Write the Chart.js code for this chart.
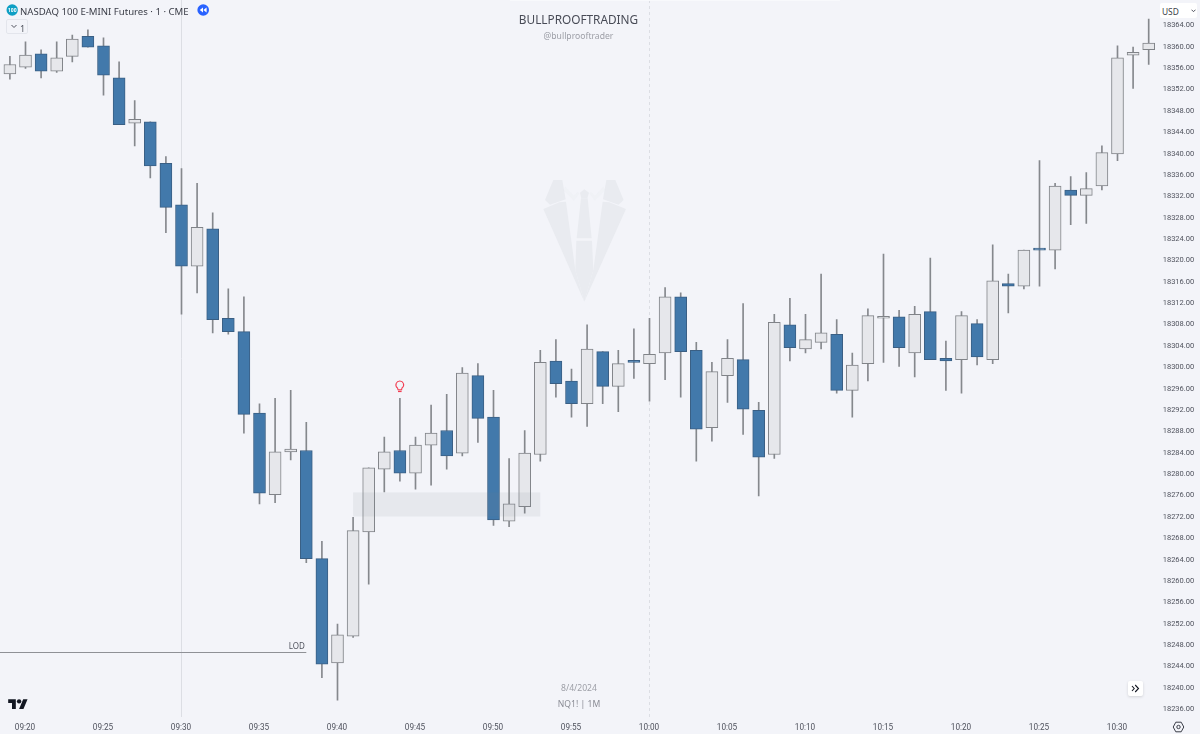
<!DOCTYPE html>
<html>
<head>
<meta charset="utf-8">
<script src="https://cdn.jsdelivr.net/npm/chart.js@4"></script>
<style>
html,body{margin:0;padding:0;background:#f3f4f9;width:1200px;height:734px;overflow:hidden}
#wrap{position:relative;width:1200px;height:734px}
#wrap>*{position:absolute}
canvas{left:0;top:0}
.t{white-space:nowrap;line-height:1}
</style>
</head>
<body>
<div id="wrap">
<svg style="left:0;top:0" width="1200" height="734" viewBox="0 0 1200 734">
  <g fill="#e9ebf0" transform="translate(500,170) scale(.3333)">
    <path d="M160 30L187 30L197 88L150 104L135 90Z"/>
    <path d="M346 30L319 30L309 88L356 104L371 90Z"/>
    <path d="M130 117L178 97L198 95L226 300L253 395Z"/>
    <path d="M378 117L328 97L308 95L280 300L253 395Z"/>
    <path d="M240 68L253 58L267 68L262 85L244 85Z"/>
    <path d="M243 85L263 85L275 205L230 205Z"/>
    <path d="M229 212L276 212L280 300L253 395L226 300Z"/>
    <path d="M190 60L222 92L238 70L232 66L222 78L196 50Z" opacity=".25"/>
    <path d="M316 60L284 92L268 70L274 66L284 78L310 50Z" opacity=".25"/>
  </g>
</svg>
<canvas id="c" width="1200" height="734"></canvas>

<svg style="left:6px;top:4px" width="13" height="13" viewBox="0 0 13 13"><circle cx="6.2" cy="6" r="5.7" fill="#0e9fc4"/><text x="6.2" y="7.8" font-family="Roboto" font-size="5" font-weight="700" fill="#fff" text-anchor="middle">100</text></svg>
<div class="t" style="left:20px;top:5px;font:9.6px 'Noto Sans';color:#3a3d47">NASDAQ 100 E-MINI Futures · 1 · CME</div>
<svg style="left:197px;top:4px" width="13" height="13" viewBox="0 0 13 13"><circle cx="6.2" cy="6" r="5.8" fill="#2962ff"/><path d="M6 3.4V8.6L2.8 6ZM9.6 3.4V8.6L6.4 6Z" fill="#fff"/></svg>
<div class="t" style="left:6px;top:19px;width:20px;height:13px;border:1px solid #e3e5ec;border-radius:2px;font:9px 'Noto Sans';color:#50535e"><svg style="position:absolute;left:4px;top:4px" width="6" height="5"><path d="M.5 1L3 3.5L5.5 1" stroke="#50535e" fill="none"/></svg><span style="position:absolute;left:13px;top:2px">1</span></div>

<div class="t" style="left:490px;width:177px;top:11px;text-align:center;font:11.8px 'Noto Sans';color:#484b56">BULLPROOFTRADING</div>
<div class="t" style="left:490px;width:177px;top:30px;text-align:center;font:8.6px 'Noto Sans';color:#9c9ea6">@bullprooftrader</div>
<div style="left:510px;top:0;width:330px;height:1px;background:#f8f9fc"></div>

<div class="t" style="left:1160px;top:3px;width:37px;height:15px;background:#fff;border-radius:2px;font:8.4px 'Noto Sans';color:#3a3d47"><span style="position:absolute;left:2px;top:3px">USD</span><svg style="position:absolute;left:31px;top:6px" width="5" height="4"><path d="M.5 .7L2.5 2.7L4.5 .7" stroke="#50535e" fill="none"/></svg></div>

<svg style="left:393px;top:379px" width="14" height="15" viewBox="0 0 14 15"><path d="M4.6 9.2C2.6 7.4 2.6 5.8 3.2 4.4C3.9 2.8 5.4 2 6.8 2C8.3 2 9.8 2.9 10.4 4.4C11 5.8 10.8 7.4 8.9 9.2L8.6 10.8H5Z" fill="none" stroke="#f23d52" stroke-width="1.1"/><path d="M5 12.4H8.6" stroke="#f23d52" stroke-width="1.4"/></svg>

<div class="t" style="left:534px;width:90px;top:682px;text-align:center;font:8.6px 'Noto Sans';color:#9c9ea6">8/4/2024</div>
<div class="t" style="left:534px;width:90px;top:698px;text-align:center;font:8.6px 'Noto Sans';color:#8a8c95">NQ1! | 1M</div>

<svg style="left:8px;top:697px" width="20" height="12" viewBox="0 0 36 22"><path d="M14 22H7V11H0V4h14v18zM28 22h-8l7.5-18h8L28 22z" fill="#131722"/><circle cx="20" cy="8" r="4" fill="#131722"/></svg>

<div style="left:1128px;top:681px;width:15px;height:15px;background:#fff;border-radius:2px;box-shadow:0 1px 3px rgba(0,0,0,.14)"><svg style="position:absolute;left:3px;top:3px" width="10" height="9" viewBox="0 0 10 9"><path d="M1 2L3.2 4.5L1 7M4.2 1L7.5 4.5L4.2 8" stroke="#131722" stroke-width="1.1" fill="none"/></svg></div>
<svg style="left:1172px;top:721px" width="13" height="12" viewBox="0 0 13 12"><path d="M3.8 1.2H9.2L11.8 6L9.2 10.8H3.8L1.2 6Z" fill="none" stroke="#3a3d47" stroke-width="1"/><circle cx="6.5" cy="6" r="1.7" fill="none" stroke="#3a3d47" stroke-width="1"/></svg>
</div>

<script>
const times = ["09:19","09:20","09:21","09:22","09:23","09:24","09:25","09:26","09:27","09:28","09:29","09:30","09:31","09:32","09:33","09:34","09:35","09:36","09:37","09:38","09:39","09:40","09:41","09:42","09:43","09:44","09:45","09:46","09:47","09:48","09:49","09:50","09:51","09:52","09:53","09:54","09:55","09:56","09:57","09:58","09:59","10:00","10:01","10:02","10:03","10:04","10:05","10:06","10:07","10:08","10:09","10:10","10:11","10:12","10:13","10:14","10:15","10:16","10:17","10:18","10:19","10:20","10:21","10:22","10:23","10:24","10:25","10:26","10:27","10:28","10:29","10:30","10:31","10:32"];
const xTickLabels = ["09:20","09:25","09:30","09:35","09:40","09:45","09:50","09:55","10:00","10:05","10:10","10:15","10:20","10:25","10:30"];
const yTickValues = [18236,18240,18244,18248,18252,18256,18260,18264,18268,18272,18276,18280,18284,18288,18292,18296,18300,18304,18308,18312,18316,18320,18324,18328,18332,18336,18340,18344,18348,18352,18356,18360,18364];

const opens = [18354.75,18356,18358.5,18355.25,18358,18361.75,18360,18354,18345.5,18345.75,
18338,18330.25,18318.75,18325.75,18309,18306.5,18291.25,18276,18284,18284.25,
18264,18244.5,18249.5,18269,18280.75,18284.25,18280,18285.25,18288,18283.75,
18298.25,18290.5,18271,18273.75,18283.5,18301,18297.25,18293,18302.75,18296.25,
18301,18300.5,18302.5,18313,18303,18288.5,18298.25,18301.25,18291.75,18283.5,
18307.75,18303.25,18304.5,18306,18295.5,18300.5,18309,18309.25,18302.5,18310.25,
18301.5,18301.25,18308,18301.25,18315.5,18315,18322,18321.75,18333,18332,
18333.75,18339.75,18358.25,18359.25];
const closes = [18356.5,18358.25,18355.25,18357.75,18361.25,18359.75,18354.5,18345.25,18346.25,18337.5,
18329.75,18318.75,18326,18308.75,18306.5,18291,18276.25,18284,18284.5,18264,
18244.25,18249.75,18269.25,18281,18284,18280,18285.25,18287.5,18283.25,18298.75,
18290.25,18271.25,18274.25,18283.75,18300.75,18296.75,18293,18303.25,18296.25,18300.5,
18300.75,18302.25,18313,18302.75,18288.25,18299,18301.5,18292,18283,18308.25,
18303.5,18305,18306.25,18295.5,18300.25,18309.5,18309,18303.5,18309.75,18301.25,
18301,18309.5,18301.75,18316,18315,18321.75,18321.75,18333.75,18332,18333.25,
18340,18357.75,18358.75,18360.5];
const highs = [18358,18360.75,18359.25,18360.75,18362,18363,18361.5,18357,18349.75,18345.75,
18339.25,18337,18334.25,18328.75,18314.5,18313,18293,18294,18295.5,18289.5,
18267.25,18251.75,18271.75,18281,18286.75,18294,18286.75,18292.75,18294.75,18299.75,
18300.5,18295.5,18282.75,18288,18303,18305,18299.5,18307.75,18302.75,18303,
18307,18309,18314.75,18313.75,18304.5,18300.75,18305,18311.75,18293.25,18309.75,
18312.75,18309.75,18317.25,18308.75,18302.5,18310.75,18321,18310.5,18311.25,18320.25,
18304.75,18310.25,18308.75,18322.75,18317.25,18321.75,18338.5,18334.25,18335.5,18336.25,
18341.25,18360,18359.75,18365];
const lows = [18353.75,18355.75,18354,18355,18357,18359.75,18350.75,18345.25,18341.25,18335.25,
18325,18309.75,18313.75,18306.25,18306,18287.5,18274.25,18274.5,18282.5,18263.25,
18241.75,18237.5,18249.25,18259.25,18276.5,18278.5,18277,18277.75,18280.75,18283.25,
18285.75,18270.25,18270,18272.5,18282.25,18294.25,18290.5,18288.75,18293,18291.5,
18297.75,18293.5,18297.5,18294.25,18282.25,18286,18293.25,18287.25,18275.75,18282.75,
18301,18302.5,18303.25,18295,18290.5,18297.25,18300.75,18300,18298,18301.25,
18295.5,18295,18300.25,18300.5,18310,18314.5,18315,18318.25,18326.5,18326.75,
18333,18338.5,18352,18356.5];

const lodPrice = 18246.5, lodEnd = "09:38", lodLabel = "LOD";
const zoneStart = "09:41", zoneEnd = "09:53", zoneTop = 18276.4, zoneBottom = 18271.9;
const solidLineAt = "09:30", dashedLineAt = "10:00";

const isDown = opens.map((o,i)=>closes[i]<o);

const overlay = {
  id:'overlay',
  beforeDatasetsDraw(chart){
    const {ctx,scales:{x},chartArea:a} = chart;
    ctx.save();
    ctx.strokeStyle='#dcdee4';ctx.lineWidth=1;
    let px=Math.round(x.getPixelForValue(times.indexOf(solidLineAt)))-.5;
    ctx.beginPath();ctx.moveTo(px,a.top);ctx.lineTo(px,a.bottom);ctx.stroke();
    px=Math.round(x.getPixelForValue(times.indexOf(dashedLineAt)))-.5;
    ctx.setLineDash([3,3]);
    ctx.beginPath();ctx.moveTo(px,a.top);ctx.lineTo(px,a.bottom);ctx.stroke();
    ctx.restore();
  },
  afterDatasetsDraw(chart){
    const {ctx,scales:{x,y}} = chart;
    ctx.save();
    const x0=x.getPixelForValue(times.indexOf(zoneStart)),x1=x.getPixelForValue(times.indexOf(zoneEnd));
    const y0=y.getPixelForValue(zoneTop),y1=y.getPixelForValue(zoneBottom);
    ctx.fillStyle='rgba(120,123,134,0.10)';
    ctx.fillRect(x0,y0,x1-x0,y1-y0);
    const lx=x.getPixelForValue(times.indexOf(lodEnd)),ly=Math.round(y.getPixelForValue(lodPrice))+.5;
    ctx.strokeStyle='#8f9196';ctx.lineWidth=1;
    ctx.beginPath();ctx.moveTo(0,ly);ctx.lineTo(lx,ly);ctx.stroke();
    ctx.fillStyle='#50535e';ctx.font="8px 'Noto Sans'";ctx.textAlign='right';ctx.textBaseline='alphabetic';
    ctx.fillText(lodLabel,lx-1.5,ly-4);
    ctx.restore();
  }
};

new Chart(document.getElementById('c'),{
  type:'bar',
  data:{
    labels:times,
    datasets:[
      {label:'wick',order:2,grouped:false,data:lows.map((l,i)=>[l,highs[i]]),barThickness:1,
       backgroundColor:'#85888d',borderWidth:0},
      {label:'body',order:1,grouped:false,data:opens.map((o,i)=>[o,closes[i]]),barThickness:12,minBarLength:2,
       backgroundColor:isDown.map(d=>d?'#4279ab':'#e6e7eb'),
       borderColor:isDown.map(d=>d?'#3a5f84':'#808388'),
       borderWidth:1,borderSkipped:false}
    ]
  },
  options:{
    responsive:false,animation:false,devicePixelRatio:1,
    layout:{padding:{left:2.1,right:0,top:0,bottom:0}},
    plugins:{legend:{display:false},tooltip:{enabled:false},title:{display:false}},
    scales:{
      x:{type:'category',offset:true,
         grid:{display:false,drawTicks:false},border:{display:false},
         afterFit(s){s.height=17;s.paddingLeft=0;s.paddingRight=0;},
         ticks:{autoSkip:false,maxRotation:0,padding:6,labelOffset:-0.5,color:'#50535e',font:{family:'Roboto',size:8.2},
                callback(v){const l=times[v];return xTickLabels.includes(l)?l:'';}}},
      y:{type:'linear',position:'right',min:18234.37,max:18368.566,
         grid:{display:false,drawTicks:false},border:{display:false},
         afterFit(s){s.width=43.5;s.paddingTop=0;s.paddingBottom=0;},
         afterBuildTicks(s){s.ticks=yTickValues.map(v=>({value:v}));},
         ticks:{padding:6.2,labelOffset:1,color:'#50535e',font:{family:'Roboto',size:7.5},
                callback(v){return Number(v).toFixed(2);}}}
    }
  },
  plugins:[overlay]
});
</script>
</body>
</html>
